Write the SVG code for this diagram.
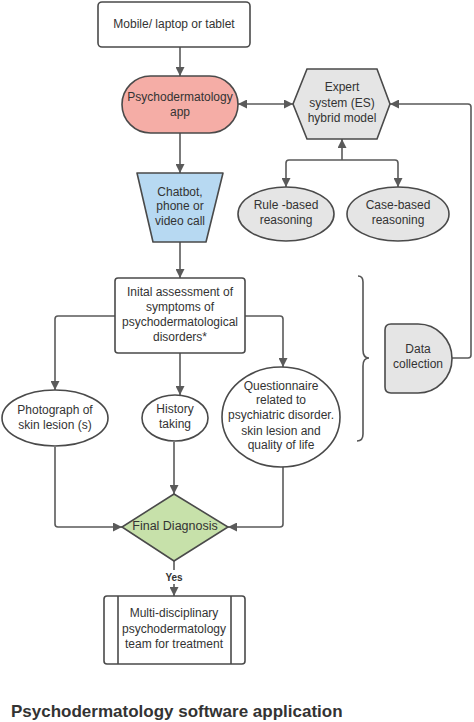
<svg xmlns="http://www.w3.org/2000/svg" width="474" height="722" viewBox="0 0 474 722">
<defs>
<style>
.n{stroke:#4a4a4a;stroke-width:1.6}
.t{font-family:"Liberation Sans",Arial,sans-serif;font-size:12px;fill:#333;text-anchor:middle}
.c{fill:none;stroke:#5a5a5a;stroke-width:1.6;stroke-linejoin:round}
</style>
<marker id="ah" viewBox="0 0 10 10" refX="10" refY="5" markerWidth="9" markerHeight="9" markerUnits="userSpaceOnUse" orient="auto-start-reverse">
<path d="M0,0 L10,5 L0,10 Z" fill="#5a5a5a"/>
</marker>
</defs>
<rect width="474" height="722" fill="#fff"/>
<g id="connectors">
<path class="c" d="M180,47 V76" marker-end="url(#ah)"/>
<path class="c" d="M238,104 H293" marker-start="url(#ah)" marker-end="url(#ah)"/>
<path class="c" d="M452,358 H468 Q471,358 471,355 V107 Q471,104 468,104 H390" marker-end="url(#ah)"/>
<path class="c" d="M342,160 V139" marker-end="url(#ah)"/>
<path class="c" d="M286,187 V163 Q286,160 289,160 H395 Q398,160 398,163 V187" marker-start="url(#ah)" marker-end="url(#ah)"/>
<path class="c" d="M180,133 V173" marker-end="url(#ah)"/>
<path class="c" d="M180,242 V278" marker-end="url(#ah)"/>
<path class="c" d="M115,316 H58 Q55,316 55,319 V390" marker-end="url(#ah)"/>
<path class="c" d="M180,353 V395" marker-end="url(#ah)"/>
<path class="c" d="M245,316 H280 Q283,316 283,319 V367" marker-end="url(#ah)"/>
<path class="c" d="M55,447 V524 Q55,527 58,527 H122" marker-end="url(#ah)"/>
<path class="c" d="M174,442 V494" marker-end="url(#ah)"/>
<path class="c" d="M283,467 V524 Q283,527 280,527 H228" marker-end="url(#ah)"/>
<path class="c" d="M174,561 V596" marker-end="url(#ah)"/>
<rect x="160" y="570" width="28" height="14" fill="#fff"/>
<text x="174" y="581" style="font-family:'Liberation Sans',Arial,sans-serif;font-size:10px;font-weight:bold;fill:#333;text-anchor:middle">Yes</text>
</g>
<g id="device">
<rect class="n" x="98" y="2" width="152" height="45" rx="4" fill="#fff"/>
<text class="t" x="174" y="28">Mobile/ laptop or tablet</text>
</g>
<g id="app">
<rect class="n" x="122" y="76" width="116" height="57" rx="28.5" fill="#f5ada6"/>
<text class="t" x="180" y="101">Psychodermatology</text>
<text class="t" x="180" y="116">app</text>
</g>
<g id="expert">
<polygon class="n" points="307,69 377,69 390,104 377,139 307,139 293,104" fill="#e5e5e5"/>
<text class="t" x="342" y="91">Expert</text>
<text class="t" x="342" y="107">system (ES)</text>
<text class="t" x="342" y="122">hybrid model</text>
</g>
<g id="rule">
<ellipse class="n" cx="286" cy="214" rx="48" ry="27" fill="#e5e5e5"/>
<text class="t" x="286" y="209">Rule -based</text>
<text class="t" x="286" y="224">reasoning</text>
</g>
<g id="case">
<ellipse class="n" cx="398" cy="214" rx="51" ry="27" fill="#e5e5e5"/>
<text class="t" x="398" y="209">Case-based</text>
<text class="t" x="398" y="224">reasoning</text>
</g>
<g id="chatbot">
<polygon class="n" points="137,173 223,173 206,242 153,242" fill="#b7d9f2" stroke-linejoin="round"/>
<text class="t" x="180" y="196">Chatbot,</text>
<text class="t" x="180" y="210">phone or</text>
<text class="t" x="180" y="225">video call</text>
</g>
<g id="initial">
<rect class="n" x="115" y="278" width="130" height="75" rx="3" fill="#fff"/>
<text class="t" x="180" y="296">Inital assessment of</text>
<text class="t" x="180" y="311">symptoms of</text>
<text class="t" x="180" y="326">psychodermatological</text>
<text class="t" x="180" y="341">disorders*</text>
</g>
<g id="photo">
<ellipse class="n" cx="55" cy="418" rx="53" ry="28" fill="#fff"/>
<text class="t" x="55" y="414">Photograph of</text>
<text class="t" x="55" y="429">skin lesion (s)</text>
</g>
<g id="history">
<ellipse class="n" cx="175" cy="418" rx="33" ry="23" fill="#fff"/>
<text class="t" x="175" y="413">History</text>
<text class="t" x="175" y="428">taking</text>
</g>
<g id="questionnaire">
<ellipse class="n" cx="281" cy="417" rx="59" ry="50" fill="#fff"/>
<text class="t" x="281" y="390">Questionnaire</text>
<text class="t" x="281" y="404">related to</text>
<text class="t" x="281" y="419">psychiatric disorder.</text>
<text class="t" x="281" y="435">skin lesion and</text>
<text class="t" x="281" y="449">quality of life</text>
</g>
<g id="brace">
<path fill="none" stroke="#555" stroke-width="1.6" d="M358,276 Q363,276 363,282 V350 Q363,358 369,358 Q363,358 363,366 V434 Q363,441 357,441"/>
</g>
<g id="data">
<path class="n" d="M385,330 Q385,324 391,324 H418 A34,34.5 0 0 1 418,393 H391 Q385,393 385,387 Z" fill="#e5e5e5"/>
<text class="t" x="418" y="353">Data</text>
<text class="t" x="418" y="368">collection</text>
</g>
<g id="diagnosis">
<polygon class="n" points="174,494 228,527 174,561 122,527" fill="#c7e1aa"/>
<text class="t" x="175" y="530" style="font-size:12.5px">Final Diagnosis</text>
</g>
<g id="team">
<rect class="n" x="104" y="596" width="141" height="68" rx="3" fill="#fff"/>
<line class="n" x1="118" y1="596" x2="118" y2="664"/>
<line class="n" x1="231" y1="596" x2="231" y2="664"/>
<text class="t" x="174" y="617">Multi-disciplinary</text>
<text class="t" x="174" y="633">psychodermatology</text>
<text class="t" x="174" y="648">team for treatment</text>
</g>
<text x="11" y="717" style="font-family:'Liberation Sans',Arial,sans-serif;font-size:17px;font-weight:bold;fill:#333">Psychodermatology software application</text>
</svg>
